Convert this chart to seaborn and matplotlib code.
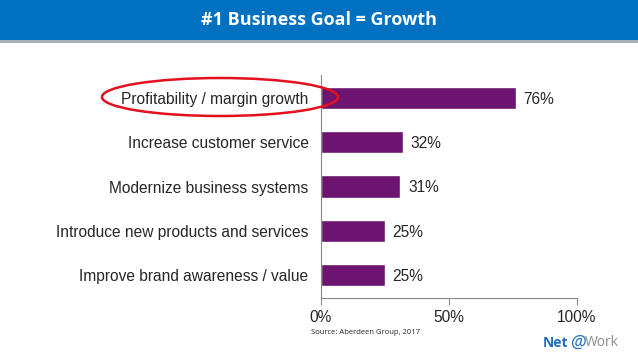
import matplotlib
matplotlib.use("Agg")
import matplotlib.pyplot as plt
import seaborn as sns
import pandas as pd
from matplotlib.patches import Ellipse, Rectangle

categories = ["Profitability / margin growth", "Increase customer service",
              "Modernize business systems", "Introduce new products and services",
              "Improve brand awareness / value"]
values = [76, 32, 31, 25, 25]
xticks = [0, 50, 100]
xtick_labels = ["0%", "50%", "100%"]

sns.set_style("white")
plt.rcParams['font.family'] = ['Liberation Sans', 'DejaVu Sans']

df = pd.DataFrame({"goal": categories, "pct": values})

fig = plt.figure(figsize=(6.38, 3.59), dpi=100)
fig.patch.set_facecolor("white")

# header band
fig.patches.append(Rectangle((0, 1 - 40/359), 1, 40/359, transform=fig.transFigure,
                             facecolor="#0070C0", edgecolor="none", zorder=0))
fig.patches.append(Rectangle((0, 1 - 43/359), 1, 3/359, transform=fig.transFigure,
                             facecolor="#A7AFB8", edgecolor="none", zorder=0))
fig.text(0.5, 1 - 20/359, "#1 Business Goal = Growth", color="white",
         fontsize=13, fontweight="bold", ha="center", va="center",
         family=["Open Sans", "DejaVu Sans"])

ax = fig.add_axes([321/638, 1 - 298/359, (577 - 321)/638, (298 - 75)/359])
sns.barplot(data=df, x="pct", y="goal", orient="h", color="#6C1470",
            saturation=1, width=0.5, ax=ax)
ax.set_xlim(0, 100)
ax.set_ylim(4.52, -0.52)
ax.set_xlabel("")
ax.set_ylabel("")
ax.set_xticks(xticks)
ax.set_xticklabels(xtick_labels, fontsize=11.2)
ax.tick_params(axis="x", direction="out", length=5, width=0.8, color="#888888",
               pad=4, bottom=True)
ax.tick_params(axis="y", length=0, pad=9, labelsize=11.2)
for s in ["top", "right"]:
    ax.spines[s].set_visible(False)
for s in ["left", "bottom"]:
    ax.spines[s].set_color("#888888")
    ax.spines[s].set_linewidth(0.8)

for i, v in enumerate(values):
    ax.text(v + 3, i + 0.03, f"{v}%", va="center", ha="left", fontsize=11.2)

# red ellipse highlight
fig.patches.append(Ellipse((220/638, 1 - 97/359), 236/638, 38/359,
                           transform=fig.transFigure, facecolor="none",
                           edgecolor="#E3101E", linewidth=1.8, zorder=5))

fig.text(311/638, 1 - 332/359, "Source: Aberdeen Group, 2017", fontsize=5.5,
         ha="left", va="center", family=["Open Sans", "DejaVu Sans"])

fig.text(568/638, 1 - 343/359, "Net", color="#1F6FC0", fontsize=10, fontweight="bold",
         ha="right", va="center", family=["Open Sans", "DejaVu Sans"])
fig.text(578/638, 1 - 343/359, "@", color="#1F6FC0", fontsize=13, style="italic",
         ha="center", va="center", family=["Open Sans", "DejaVu Sans"])
fig.text(585/638, 1 - 343/359, "Work", color="#8C8C8C", fontsize=10,
         ha="left", va="center", family=["Open Sans", "DejaVu Sans"])

fig.savefig("out.png", dpi=100)
